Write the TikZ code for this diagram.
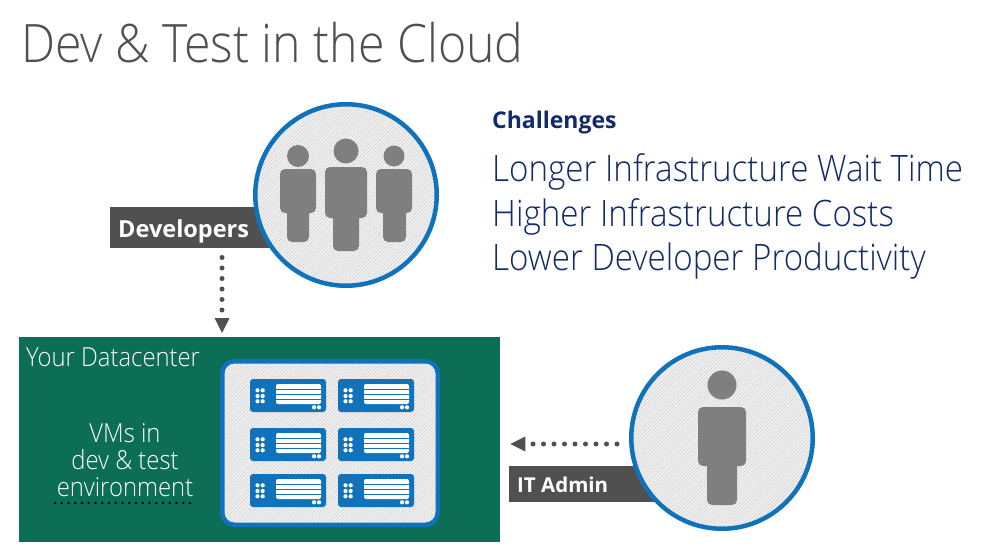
\documentclass[tikz,border=0pt]{standalone}
\usepackage{fontspec}
\setmainfont{Open Sans}
\newfontfamily\lightfont[FakeStretch=0.91]{Open Sans Light}
\usetikzlibrary{arrows.meta,patterns.meta}
\definecolor{titlegrey}{HTML}{505050}
\definecolor{navytext}{HTML}{12296A}
\definecolor{dcgreen}{HTML}{0B6E55}
\definecolor{ringblue}{HTML}{1072BA}
\definecolor{labelgrey}{HTML}{505050}
\definecolor{figuregrey}{HTML}{7F7F7F}
\begin{document}
\begin{tikzpicture}[x=1pt,y=1pt,yscale=-1,xscale=1,
    hatched/.style={preaction={fill=black!5},preaction={pattern={Lines[angle=45,distance=2.4pt,line width=0.5pt]},pattern color=black!20}},
    ring/.style={circle,draw=ringblue,line width=4.5pt,minimum size=181.5pt,inner sep=0pt,hatched},
    tag/.style={fill=labelgrey,text=white,font=\bfseries,inner sep=0pt,anchor=north west,text depth=0pt},
    figure/.style={fill=figuregrey,rounded corners=5pt},
    dotline/.style={draw=labelgrey,line width=5pt,line cap=round,dash pattern=on 0pt off 10.5pt,shorten >=4pt,
        -{Triangle[width=15pt,length=15pt,line width=0pt,sep=0pt]}},
    headline/.style={text=navytext,font=\lightfont\fontsize{36.4}{36.4}\selectfont,anchor=base west,inner sep=0pt},
    dctext/.style={text=white,font=\lightfont\fontsize{26.2}{27}\selectfont,inner sep=0pt}]
    \useasboundingbox (0,0) rectangle (995,554);
    \fill[white] (0,0) rectangle (995,554);

    % Title
    \node (title) [anchor=base west,inner sep=0pt,text=titlegrey,font=\lightfont\fontsize{53}{53}\selectfont] at (21,62) {Dev \& Test in the Cloud};

    % Challenges
    \node (challenges) [anchor=base west,inner sep=0pt,text=navytext,font=\bfseries\fontsize{23}{23}\selectfont] at (492,128) {Challenges};
    \node (waittime) [headline] at (492,181) {Longer Infrastructure Wait Time};
    \node (costs) [headline] at (492,226) {Higher Infrastructure Costs};
    \node (productivity) [headline] at (492,270) {Lower Developer Productivity};

    % Datacenter
    \node (datacenter) [fill=dcgreen,minimum width=481pt,minimum height=205pt,inner sep=0pt,anchor=north west] at (19,337) {};
    \node (dctitle) [dctext,anchor=base west] at (26,366) {Your Datacenter};
    \node (vmtext) [dctext,align=center,anchor=north] at (125,423) {VMs in\\dev \& test\\environment};
    \coordinate (underleft) at (55,503);
    \coordinate (underright) at (190.5,503);
    \draw [black,line width=2.7pt,line cap=round,dash pattern=on 0pt off 6.75pt] (underleft) -- (underright);

    % Server panel
    \node (panel) [draw=ringblue,line width=4.5pt,rounded corners=12pt,minimum width=215.5pt,minimum height=163.5pt,inner sep=0pt,hatched] at (330,443) {};
    \foreach \sx in {250,338}
    \foreach \sy in {379,428,474}
    {
        \begin{scope}[shift={(\sx,\sy)}]
            \fill [ringblue,rounded corners=3pt] (0,0) rectangle (76,33);
            \fill [white,rounded corners=2pt] (26,5) rectangle (71,25);
            \foreach \ly in {10.3,15.4,20.4}
                \fill [ringblue] (26,\ly-0.7) rectangle (71,\ly+0.7);
            \foreach \dx in {7.5,12.7}
            \foreach \dy in {11.3,17,22.3}
                \fill [white] (\dx,\dy) circle [radius=2.1];
            \fill [white] (64,28.3) circle [radius=2.1] (69,28.3) circle [radius=2.1];
        \end{scope}
    }

    % Developers
    \node (devtag) [tag,minimum width=165pt,minimum height=41pt] at (110,207) {};
    \node (devtext) [anchor=base west,inner sep=0pt,text=white,font=\bfseries\fontsize{23.5}{23.5}\selectfont] at (118,237) {Developers};
    \node (devring) [ring] at (346,195) {};
    \fill [figure] (280,169) rectangle (316,213);
    \fill [figure] (287,200) rectangle (309,242);
    \fill [figuregrey] (298,156) circle [radius=11];
    \fill [figure] (325,167) rectangle (367,218);
    \fill [figure] (333,200) rectangle (359,251);
    \fill [figuregrey] (346,151) circle [radius=12.5];
    \fill [figure] (376,169) rectangle (412,213);
    \fill [figure] (383,200) rectangle (406,242);
    \fill [figuregrey] (394,156) circle [radius=10.5];

    % IT Admin
    \node (admintag) [tag,minimum width=150pt,minimum height=36pt] at (509,466) {};
    \node (admintext) [anchor=base west,inner sep=0pt,text=white,font=\bfseries\fontsize{20.5}{20.5}\selectfont] at (517,492) {IT Admin};
    \node (adminring) [ring] at (722,438) {};
    \fill [figure] (698,407) rectangle (746,466);
    \fill [figure] (707,440) rectangle (737,505);
    \fill [figuregrey] (722,385) circle [radius=14.5];

    % Connection
    \coordinate (devstart) at (222,257.5);
    \coordinate (adminstart) at (617,444);
    \draw [dotline] (devstart) -- (datacenter.north -| devstart);
    \draw [dotline,shorten >=10pt] (adminstart) -- (datacenter.east |- adminstart);
\end{tikzpicture}
\end{document}
